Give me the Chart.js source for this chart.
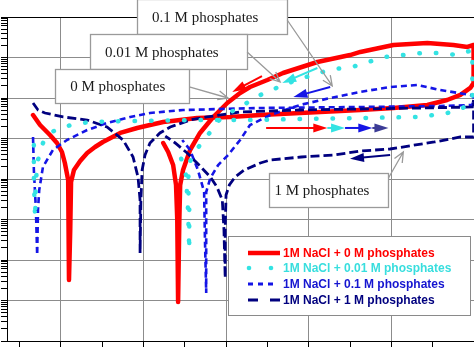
<!DOCTYPE html>
<html><head><meta charset="utf-8">
<script src="https://cdn.jsdelivr.net/npm/chart.js@4.4.0/dist/chart.umd.min.js"></script>
<style>html,body{margin:0;padding:0;background:#fff;}canvas{display:block;}</style>
</head><body>
<canvas id="c" width="474" height="348"></canvas>
<script>
// ---- data (potential E, current density i) ----
const seriesNames = ['1M NaCl + 0 M phosphates','1M NaCl + 0.01 M phosphates','1M NaCl + 0.1 M phosphates','1M NaCl + 1 M phosphates'];

const redE = [-0.867,-0.850,-0.826,-0.809,-0.797,-0.790,-0.782,-0.780,-0.780,-0.777,-0.775,-0.768,-0.753,-0.736,-0.717,-0.698,-0.656,-0.615,-0.584,-0.552,-0.470,-0.390,-0.317,-0.221,-0.075,0.005,0.087,0.135,0.167,0.191,0.199,0.199,0.199,0.184,0.150,0.087,0.005,-0.075,-0.100,-0.179,-0.262,-0.300,-0.342,-0.366,-0.397,-0.431,-0.463,-0.487,-0.504,-0.511,-0.513,-0.516,-0.518,-0.521,-0.528,-0.540,-0.552];
const redI = [3.80e-4,2.15e-4,1.22e-4,7.75e-5,4.64e-5,2.48e-5,9.45e-6,5.51e-7,3.21e-8,5.51e-7,8.43e-6,1.67e-5,2.78e-5,4.38e-5,6.17e-5,8.20e-5,1.37e-4,1.82e-4,2.15e-4,2.55e-4,3.21e-4,3.40e-4,3.80e-4,4.26e-4,5.06e-4,5.66e-4,6.72e-4,8.92e-4,1.19e-3,1.77e-3,2.34e-3,8.67e-3,2.04e-2,1.82e-2,2.04e-2,2.28e-2,2.04e-2,1.37e-2,1.15e-2,7.74e-3,4.14e-3,2.78e-3,1.87e-3,1.33e-3,7.53e-4,3.40e-4,1.37e-4,5.20e-5,1.67e-5,7.11e-6,9.72e-7,9.18e-9,9.72e-7,7.11e-6,2.22e-5,4.64e-5,7.75e-5];

const cyanE = [-0.865,-0.865,-0.862,-0.860,-0.855,-0.843,-0.826,-0.802,-0.765,-0.729,-0.632,-0.463,-0.342,-0.221,-0.075,0.070,0.135,0.167,0.196,0.196,0.196,0.160,0.118,0.075,0.029,-0.015,-0.056,-0.095,-0.136,-0.177,-0.221,-0.262,-0.300,-0.334,-0.366,-0.395,-0.422,-0.438,-0.458,-0.475,-0.489,-0.492,-0.489,-0.489,-0.492,-0.497,-0.509,-0.521];
const cyanI = [6.92e-5,9.45e-6,1.09e-6,9.45e-6,2.95e-5,7.75e-5,1.37e-4,1.82e-4,2.28e-4,2.55e-4,2.70e-4,2.86e-4,2.86e-4,3.03e-4,3.21e-4,3.40e-4,4.26e-4,5.06e-4,8.92e-4,3.70e-3,1.53e-2,1.15e-2,1.29e-2,1.29e-2,1.15e-2,1.03e-2,7.74e-3,5.82e-3,5.20e-3,4.14e-3,2.95e-3,2.09e-3,1.41e-3,1.00e-3,5.66e-4,4.26e-4,2.55e-4,1.45e-4,8.20e-5,4.64e-5,2.48e-5,7.96e-6,1.72e-6,1.77e-7,1.72e-6,1.26e-5,3.30e-5,5.82e-5];

const blueE = [-0.867,-0.865,-0.860,-0.857,-0.855,-0.852,-0.843,-0.819,-0.785,-0.736,-0.688,-0.632,-0.584,-0.504,-0.317,-0.075,0.118,0.196,0.199,0.191,0.118,0.063,-0.003,-0.075,-0.148,-0.221,-0.293,-0.342,-0.366,-0.395,-0.419,-0.438,-0.448,-0.448,-0.448,-0.451,-0.453,-0.468,-0.487,-0.506];
const blueI = [1.09e-4,1.67e-5,1.72e-6,1.33e-7,1.72e-6,5.35e-6,1.98e-5,5.20e-5,9.18e-5,1.62e-4,2.41e-4,3.40e-4,4.26e-4,5.06e-4,5.66e-4,6.00e-4,6.34e-4,6.72e-4,1.06e-3,1.19e-3,1.58e-3,2.09e-3,1.87e-3,1.41e-3,1.00e-3,6.72e-4,3.80e-4,2.15e-4,9.18e-5,3.91e-5,2.22e-5,1.06e-5,4.77e-6,3.12e-7,1.53e-8,3.12e-7,4.77e-6,1.67e-5,5.20e-5,9.18e-5];

const navyE = [-0.867,-0.855,-0.838,-0.794,-0.736,-0.688,-0.649,-0.625,-0.613,-0.608,-0.608,-0.606,-0.603,-0.596,-0.584,-0.560,-0.535,-0.487,-0.446,-0.366,-0.221,-0.075,0.070,0.196,0.199,0.199,0.167,0.104,-0.003,-0.075,-0.138,-0.218,-0.293,-0.317,-0.356,-0.378,-0.392,-0.400,-0.402,-0.402,-0.405,-0.409,-0.422,-0.438,-0.463,-0.494,-0.523,-0.547];
const navyI = [7.53e-4,5.06e-4,4.26e-4,3.40e-4,2.86e-4,1.92e-4,9.18e-5,3.49e-5,1.12e-5,3.03e-6,1.49e-7,3.03e-6,1.67e-5,3.91e-5,7.75e-5,1.37e-4,1.92e-4,2.86e-4,3.40e-4,4.51e-4,5.06e-4,5.35e-4,5.66e-4,6.00e-4,8.92e-4,1.09e-4,1.09e-4,8.20e-5,5.51e-5,4.91e-5,3.91e-5,3.49e-5,2.95e-5,2.48e-5,1.67e-5,1.12e-5,7.11e-6,4.03e-6,5.51e-7,3.60e-8,5.51e-7,3.03e-6,6.34e-6,1.12e-5,2.09e-5,4.38e-5,7.75e-5,1.15e-4];

// tick positions
const xTickValues = [-0.9,-0.8,-0.7,-0.6,-0.5,-0.4,-0.3,-0.2,-0.1,0.0,0.1,0.2];
const yDecadeExponents = [-9,-8,-7,-6,-5,-4,-3,-2,-1];

// annotations (in data units)
const calloutLabels = ['0.1 M phosphates','0.01 M phosphates','0 M phosphates','1 M phosphates'];
const calloutBoxE = [[-0.615,-0.252],[-0.729,-0.349],[-0.814,-0.489],[-0.296,-0.007]];
const calloutBoxI = [[0.278,3.80e-2],[3.80e-2,5.20e-3],[5.20e-3,7.53e-4],[1.41e-5,2.04e-6]];
const calloutTextE = [-0.579,-0.693,-0.777,-0.283];
const pointerLines = [[-0.252,8.43e-2,-0.143,1.98e-3],[-0.349,1.37e-2,-0.269,2.48e-3],[-0.489,1.87e-3,-0.395,1.0e-3],[-0.007,1.06e-5,0.029,4.64e-5]];
const scanArrows = [
  [-0.313,3.49e-3,-0.385,1.41e-3,'#ff0000'],
  [-0.179,5.51e-3,-0.264,2.34e-3,'#33e3e3'],
  [-0.148,1.87e-3,-0.237,1.06e-3,'#1515e6'],
  [-0.303,1.82e-4,-0.155,1.82e-4,'#ff0000'],
  [-0.155,1.82e-4,-0.112,1.82e-4,'#33e3e3'],
  [-0.112,1.82e-4,-0.046,1.82e-4,'#1515e6'],
  [-0.046,1.82e-4,-0.007,1.82e-4,'#3c3c96'],
  [-0.003,3.91e-5,-0.100,3.16e-5,'#00007f']
];

const colors = ['#ff0000','#33e3e3','#1515e6','#00007f'];
const textColors = ['#ff0000','#38dede','#1515d0','#00007f'];

const toPts = (E,I)=>E.map((e,k)=>({x:e,y:I[k]}));
const isMajorX = v => Math.abs(Math.round(v*10)) % 2 === 0;
const isDecade = v => Math.abs(Math.log10(v) - Math.round(Math.log10(v))) < 1e-6;

function headFilled(ctx,x0,y0,x1,y1,len,hw,color){
  const a=Math.atan2(y1-y0,x1-x0);
  ctx.fillStyle=color;
  ctx.beginPath();
  ctx.moveTo(x1,y1);
  ctx.lineTo(x1-len*Math.cos(a)+hw*Math.sin(a), y1-len*Math.sin(a)-hw*Math.cos(a));
  ctx.lineTo(x1-len*Math.cos(a)-hw*Math.sin(a), y1-len*Math.sin(a)+hw*Math.cos(a));
  ctx.closePath(); ctx.fill();
}

const annotPlugin = {
  id:'annot',
  afterDatasetsDraw(chart){
    const ctx=chart.ctx, sx=chart.scales.x, sy=chart.scales.y;
    const X=v=>sx.getPixelForValue(v), Y=v=>sy.getPixelForValue(v);
    ctx.save();
    // scan-direction arrows
    scanArrows.forEach(a=>{
      const x0=X(a[0]),y0=Y(a[1]),x1=X(a[2]),y1=Y(a[3]);
      const ang=Math.atan2(y1-y0,x1-x0);
      ctx.strokeStyle=a[4]; ctx.lineWidth=2; ctx.setLineDash([]);
      ctx.beginPath(); ctx.moveTo(x0,y0); ctx.lineTo(x1-10*Math.cos(ang),y1-10*Math.sin(ang)); ctx.stroke();
      headFilled(ctx,x0,y0,x1,y1,14,4.5,a[4]);
    });
    // callout boxes
    ctx.font='15px "Liberation Serif","Times New Roman",serif';
    ctx.textBaseline='middle'; ctx.textAlign='left';
    calloutLabels.forEach((lab,k)=>{
      const l=Math.round(X(calloutBoxE[k][0]))+0.5, r=Math.round(X(calloutBoxE[k][1]))+0.5;
      const t=Math.round(Y(calloutBoxI[k][0]))+0.5, b=Math.round(Y(calloutBoxI[k][1]))+0.5;
      ctx.fillStyle='#ffffff'; ctx.fillRect(l,t,r-l,b-t);
      ctx.strokeStyle='#9a9a9a'; ctx.lineWidth=1.3; ctx.strokeRect(l,t,r-l,b-t);
      ctx.fillStyle='#1a1a1a';
      ctx.fillText(lab, X(calloutTextE[k]), (t+b)/2+1);
    });
    // pointer lines
    ctx.strokeStyle='#9a9a9a'; ctx.lineWidth=1.3;
    pointerLines.forEach(p=>{
      const x0=X(p[0]),y0=Y(p[1]),x1=X(p[2]),y1=Y(p[3]);
      const a=Math.atan2(y1-y0,x1-x0), L=11, w=0.42;
      ctx.beginPath(); ctx.moveTo(x0,y0); ctx.lineTo(x1,y1);
      ctx.moveTo(x1-L*Math.cos(a-w),y1-L*Math.sin(a-w)); ctx.lineTo(x1,y1);
      ctx.lineTo(x1-L*Math.cos(a+w),y1-L*Math.sin(a+w));
      ctx.stroke();
    });
    // legend
    const ca=chart.chartArea;
    const lr=ca.right-4, ll=lr-242, lt=ca.bottom-105, lb=ca.bottom-26;
    ctx.fillStyle='#ffffff'; ctx.fillRect(ll+0.5,lt+0.5,lr-ll,lb-lt);
    ctx.strokeStyle='#8a8a8a'; ctx.lineWidth=1; ctx.strokeRect(ll+0.5,lt+0.5,lr-ll,lb-lt);
    ctx.font='bold 12px "Liberation Sans",Arial,sans-serif';
    const rows=[lt+17,lt+32,lt+48,lt+64];
    seriesNames.forEach((n,k)=>{
      const y=rows[k], xs=ll+20, xe=ll+52;
      ctx.strokeStyle=colors[k];
      if(k===0){ctx.lineWidth=4.5; ctx.setLineDash([]); ctx.lineCap='butt';ctx.beginPath();ctx.moveTo(xs,y);ctx.lineTo(xe,y);ctx.stroke();}
      if(k===1){ctx.fillStyle=colors[k]; [xs+1,xs+23].forEach(cx=>{ctx.beginPath();ctx.arc(cx,y,2.3,0,Math.PI*2);ctx.fill();});}
      if(k===2){ctx.lineWidth=3; ctx.setLineDash([5,5]); ctx.beginPath();ctx.moveTo(xs,y);ctx.lineTo(xe-3,y);ctx.stroke();}
      if(k===3){ctx.lineWidth=3; ctx.setLineDash([10,12]); ctx.beginPath();ctx.moveTo(xs,y);ctx.lineTo(xe+1,y);ctx.stroke();}
      ctx.setLineDash([]);
      ctx.fillStyle=textColors[k];
      ctx.fillText(n, ll+55, y+1);
    });
    ctx.restore();
  }
};

const common = {showLine:true, pointRadius:0, tension:0, fill:false};
new Chart(document.getElementById('c'), {
  type:'scatter',
  data:{datasets:[
    Object.assign({label:seriesNames[0], data:toPts(redE,redI), borderColor:colors[0], borderWidth:4.5, borderJoinStyle:'round', borderCapStyle:'round', order:4}, common),
    Object.assign({label:seriesNames[1], data:toPts(cyanE,cyanI), borderColor:colors[1], borderWidth:4.5, borderDash:[0.5,16], borderCapStyle:'round', order:1}, common),
    Object.assign({label:seriesNames[2], data:toPts(blueE,blueI), borderColor:colors[2], borderWidth:2.6, borderDash:[6,4], order:3}, common),
    Object.assign({label:seriesNames[3], data:toPts(navyE,navyI), borderColor:colors[3], borderWidth:2.8, borderDash:[9,4], order:2}, common)
  ]},
  options:{
    responsive:false, animation:false, devicePixelRatio:1,
    layout:{padding:{top:17,left:1,right:0,bottom:1}},
    plugins:{legend:{display:false}, tooltip:{enabled:false}},
    scales:{
      x:{type:'linear', min:-0.93, max:0.2,
         afterBuildTicks:s=>{s.ticks=xTickValues.map(v=>({value:v}));},
         ticks:{display:false},
         grid:{color:c=>(c.tick && isMajorX(c.tick.value))?'#8c8c8c':'rgba(0,0,0,0)', tickColor:'#000', tickLength:6, lineWidth:1},
         border:{color:'#000', width:1}},
      y:{type:'logarithmic', min:1e-9, max:1e-1,
         afterBuildTicks:s=>{const t=[];yDecadeExponents.forEach(n=>{const lim=(n===-1)?1:9;for(let k=1;k<=lim;k++)t.push({value:k*Math.pow(10,n)});});s.ticks=t;},
         ticks:{display:false},
         grid:{color:c=>{if(!c.tick)return 'rgba(0,0,0,0)';const v=c.tick.value;if(Math.abs(v-0.1)<1e-9)return '#000';return isDecade(v)?'#8c8c8c':'rgba(0,0,0,0)';}, tickColor:'#000', tickLength:6, lineWidth:1},
         border:{color:'#000', width:1}}
    }
  },
  plugins:[annotPlugin]
});
</script>
</body></html>
